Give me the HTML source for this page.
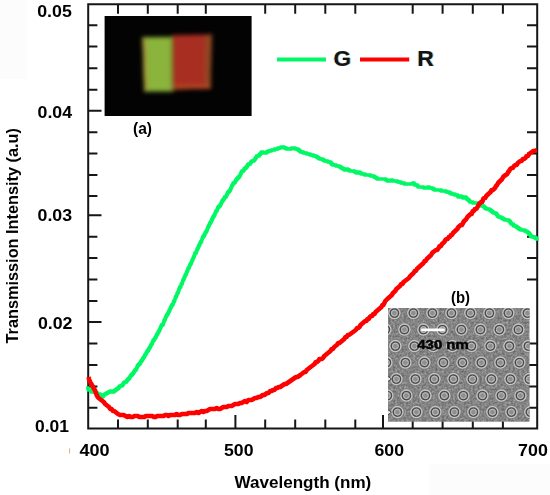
<!DOCTYPE html>
<html><head><meta charset="utf-8"><title>Transmission spectra</title>
<style>
html,body{margin:0;padding:0;background:#fff;}
body{width:550px;height:495px;overflow:hidden;}
svg{display:block;}
text{font-family:"Liberation Sans",Arial,sans-serif;font-weight:bold;fill:#000;}
.tk{font-size:15.6px;}
.lb{font-size:16px;}
.ax{font-size:16.4px;}
.lg{font-size:21.5px;fill:#141414;}
.sb{font-size:13.6px;fill:#050505;stroke:#050505;stroke-width:0.5px;}
</style></head>
<body>
<svg width="550" height="495" viewBox="0 0 550 495">
<defs>
<filter id="blur1" x="-20%" y="-20%" width="140%" height="140%"><feGaussianBlur stdDeviation="2.1"/></filter>
<filter id="noise" x="0" y="0" width="100%" height="100%" color-interpolation-filters="sRGB">
<feTurbulence type="fractalNoise" baseFrequency="0.45" numOctaves="2" seed="4"/>
<feColorMatrix type="matrix" values="1 0 0 0 0  1 0 0 0 0  1 0 0 0 0  0 0 0 0 1"/>
</filter>
<filter id="ct" x="-20%" y="-20%" width="140%" height="140%" color-interpolation-filters="sRGB">
<feFlood flood-color="#f0a020" flood-opacity="0.55"/><feComposite in2="SourceAlpha" operator="in"/><feOffset dx="-0.8" result="o"/>
<feFlood flood-color="#1a9cf0" flood-opacity="0.6"/><feComposite in2="SourceAlpha" operator="in"/><feOffset dx="0.8" result="b"/>
<feMerge><feMergeNode in="o"/><feMergeNode in="b"/><feMergeNode in="SourceGraphic"/></feMerge>
</filter>
<clipPath id="semclip"><rect x="388" y="308" width="141.6" height="113.8"/></clipPath>
</defs>
<rect width="550" height="495" fill="#fff"/>
<rect x="0" y="0" width="26.5" height="79" fill="#fcfcfc"/>
<rect x="430" y="464" width="120" height="31" fill="#fcfcfc"/>
<rect x="69" y="448.4" width="1.1" height="5" fill="#e89a70" opacity="0.8"/>
<path d="M88.2 428.6V4.3H537.2V428.6Z" fill="none" stroke="#161616" stroke-width="2"/>
<path d="M88.2 110.8H101.5M88.2 215.3H101.5M88.2 322H101.5M88.2 25.3H97.4M88.2 46.6H97.4M88.2 68.2H97.4M88.2 89.7H97.4M88.2 132.2H97.4M88.2 153.6H97.4M88.2 175H97.4M88.2 196H97.4M88.2 236.7H97.4M88.2 258H97.4M88.2 279.6H97.4M88.2 300.9H97.4M88.2 343.5H97.4M88.2 365H97.4M88.2 386.6H97.4M88.2 407.7H97.4M235.4 428.6V415M383 428.6V415M118 428.6V419.6M147.8 428.6V419.6M177.7 428.6V419.6M205.8 428.6V419.6M265.2 428.6V419.6M295.2 428.6V419.6M325.3 428.6V419.6M355.3 428.6V419.6M412.7 428.6V419.6M442.6 428.6V419.6M472.8 428.6V419.6M502.9 428.6V419.6M118 4.3V13.8M147.8 4.3V13.8M177.7 4.3V13.8M205.8 4.3V13.8M265.2 4.3V13.8M295.2 4.3V13.8M325.3 4.3V13.8M355.3 4.3V13.8M412.7 4.3V13.8M442.6 4.3V13.8M472.8 4.3V13.8M502.9 4.3V13.8M537.2 25.3H527M537.2 46.6H527M537.2 68.2H527M537.2 89.7H527M537.2 132.2H527M537.2 153.6H527M537.2 175H527M537.2 196H527M537.2 236.7H527M537.2 258H527M537.2 279.6H527M537.2 343.5H527M537.2 365H527M537.2 386.6H527M537.2 407.7H527" fill="none" stroke="#161616" stroke-width="2"/>
<path d="M86.1 386.25 89.1 386.25 90.5 388.25 90.5 391.75 87.5 391.75 86.1 389.75ZM87.5 388.25 91.9 388.25 91.9 391.75 87.5 391.75ZM88.9 388.25 91.9 388.25 93.3 390.25 93.3 393.75 90.3 393.75 88.9 391.75ZM90.3 390.25 94.78 390.25 94.78 393.75 90.3 393.75ZM91.78 390.25 96.25 390.25 96.25 393.75 91.78 393.75ZM93.25 390.25 97.72 390.25 97.72 393.75 93.25 393.75ZM94.72 390.25 97.72 390.25 99.2 392.25 99.2 395.75 96.2 395.75 94.72 393.75ZM96.2 392.25 100.8 392.25 100.8 395.75 96.2 395.75ZM97.8 392.25 100.8 392.25 102.4 393.25 102.4 396.75 99.4 396.75 97.8 395.75ZM99.4 393.25 102.4 393.25 104 395.25 104 398.75 101 398.75 99.4 396.75ZM101 395.25 102.45 393.25 105.45 393.25 105.45 396.75 104 398.75 101 398.75ZM102.45 393.25 103.9 392.25 106.9 392.25 106.9 395.75 105.45 396.75 102.45 396.75ZM103.9 392.25 105.85 391.25 108.85 391.25 108.85 394.75 106.9 395.75 103.9 395.75ZM105.85 391.25 107.8 390.25 110.8 390.25 110.8 393.75 108.85 394.75 105.85 394.75ZM107.8 390.25 109.75 389.25 112.75 389.25 112.75 392.75 110.8 393.75 107.8 393.75ZM109.75 389.25 112.75 389.25 114.7 390.25 114.7 393.75 111.7 393.75 109.75 392.75ZM111.7 390.25 113 389.25 116 389.25 116 392.75 114.7 393.75 111.7 393.75ZM113 389.25 114.3 388.25 117.3 388.25 117.3 391.75 116 392.75 113 392.75ZM114.3 388.25 115.6 387.25 118.6 387.25 118.6 390.75 117.3 391.75 114.3 391.75ZM115.6 387.25 117.03 386.25 120.03 386.25 120.03 389.75 118.6 390.75 115.6 390.75ZM117.03 386.25 118.47 384.25 121.47 384.25 121.47 387.75 120.03 389.75 117.03 389.75ZM118.47 384.25 122.9 384.25 122.9 387.75 118.47 387.75ZM119.9 384.25 121.1 383.25 124.1 383.25 124.1 386.75 122.9 387.75 119.9 387.75ZM121.1 383.25 122.3 381.25 125.3 381.25 125.3 384.75 124.1 386.75 121.1 386.75ZM122.3 381.25 123.5 380.25 126.5 380.25 126.5 383.75 125.3 384.75 122.3 384.75ZM123.5 380.25 127.67 380.25 127.67 383.75 123.5 383.75ZM124.67 380.25 125.83 378.25 128.83 378.25 128.83 381.75 127.67 383.75 124.67 383.75ZM125.83 378.25 127 377.25 130 377.25 130 380.75 128.83 381.75 125.83 381.75ZM127 377.25 128 376.25 131 376.25 131 379.75 130 380.75 127 380.75ZM128 376.25 129 374.25 132 374.25 132 377.75 131 379.75 128 379.75ZM129 374.25 130 373.25 133 373.25 133 376.75 132 377.75 129 377.75ZM130 373.25 131 372.25 134 372.25 134 375.75 133 376.75 130 376.75ZM131 372.25 132 371.25 135 371.25 135 374.75 134 375.75 131 375.75ZM132 371.25 133 369.25 136 369.25 136 372.75 135 374.75 132 374.75ZM133 369.25 133.98 368.25 136.98 368.25 136.98 371.75 136 372.75 133 372.75ZM133.98 368.25 134.96 367.25 137.96 367.25 137.96 370.75 136.98 371.75 133.98 371.75ZM134.96 367.25 135.94 364.25 138.94 364.25 138.94 367.75 137.96 370.75 134.96 370.75ZM135.94 364.25 136.92 363.25 139.92 363.25 139.92 366.75 138.94 367.75 135.94 367.75ZM136.92 363.25 137.9 362.25 140.9 362.25 140.9 365.75 139.92 366.75 136.92 366.75ZM137.9 362.25 138.86 361.25 141.86 361.25 141.86 364.75 140.9 365.75 137.9 365.75ZM138.86 361.25 139.82 359.25 142.82 359.25 142.82 362.75 141.86 364.75 138.86 364.75ZM139.82 359.25 140.78 358.25 143.78 358.25 143.78 361.75 142.82 362.75 139.82 362.75ZM140.78 358.25 141.74 356.25 144.74 356.25 144.74 359.75 143.78 361.75 140.78 361.75ZM141.74 356.25 142.7 355.25 145.7 355.25 145.7 358.75 144.74 359.75 141.74 359.75ZM142.7 355.25 143.56 353.25 146.56 353.25 146.56 356.75 145.7 358.75 142.7 358.75ZM143.56 353.25 144.42 352.25 147.42 352.25 147.42 355.75 146.56 356.75 143.56 356.75ZM144.42 352.25 145.28 350.25 148.28 350.25 148.28 353.75 147.42 355.75 144.42 355.75ZM145.28 350.25 146.14 349.25 149.14 349.25 149.14 352.75 148.28 353.75 145.28 353.75ZM146.14 349.25 147 348.25 150 348.25 150 351.75 149.14 352.75 146.14 352.75ZM147 348.25 147.84 346.25 150.84 346.25 150.84 349.75 150 351.75 147 351.75ZM147.84 346.25 148.68 345.25 151.68 345.25 151.68 348.75 150.84 349.75 147.84 349.75ZM148.68 345.25 149.52 343.25 152.52 343.25 152.52 346.75 151.68 348.75 148.68 348.75ZM149.52 343.25 150.36 342.25 153.36 342.25 153.36 345.75 152.52 346.75 149.52 346.75ZM150.36 342.25 151.2 340.25 154.2 340.25 154.2 343.75 153.36 345.75 150.36 345.75ZM151.2 340.25 152 338.25 155 338.25 155 341.75 154.2 343.75 151.2 343.75ZM152 338.25 155.8 338.25 155.8 341.75 152 341.75ZM152.8 338.25 153.6 336.25 156.6 336.25 156.6 339.75 155.8 341.75 152.8 341.75ZM153.6 336.25 154.4 335.25 157.4 335.25 157.4 338.75 156.6 339.75 153.6 339.75ZM154.4 335.25 155.2 333.25 158.2 333.25 158.2 336.75 157.4 338.75 154.4 338.75ZM155.2 333.25 156 332.25 159 332.25 159 335.75 158.2 336.75 155.2 336.75ZM156 332.25 156.83 330.25 159.83 330.25 159.83 333.75 159 335.75 156 335.75ZM156.83 330.25 157.67 329.25 160.67 329.25 160.67 332.75 159.83 333.75 156.83 333.75ZM157.67 329.25 158.5 327.25 161.5 327.25 161.5 330.75 160.67 332.75 157.67 332.75ZM158.5 327.25 159.33 325.25 162.33 325.25 162.33 328.75 161.5 330.75 158.5 330.75ZM159.33 325.25 160.17 323.25 163.17 323.25 163.17 326.75 162.33 328.75 159.33 328.75ZM160.17 323.25 164 323.25 164 326.75 160.17 326.75ZM161 323.25 161.76 322.25 164.76 322.25 164.76 325.75 164 326.75 161 326.75ZM161.76 322.25 162.52 319.25 165.52 319.25 165.52 322.75 164.76 325.75 161.76 325.75ZM162.52 319.25 163.28 318.25 166.28 318.25 166.28 321.75 165.52 322.75 162.52 322.75ZM163.28 318.25 164.04 316.25 167.04 316.25 167.04 319.75 166.28 321.75 163.28 321.75ZM164.04 316.25 164.8 314.25 167.8 314.25 167.8 317.75 167.04 319.75 164.04 319.75ZM164.8 314.25 165.5 313.25 168.5 313.25 168.5 316.75 167.8 317.75 164.8 317.75ZM165.5 313.25 166.2 312.25 169.2 312.25 169.2 315.75 168.5 316.75 165.5 316.75ZM166.2 312.25 166.9 311.25 169.9 311.25 169.9 314.75 169.2 315.75 166.2 315.75ZM166.9 311.25 167.6 309.25 170.6 309.25 170.6 312.75 169.9 314.75 166.9 314.75ZM167.6 309.25 168.3 308.25 171.3 308.25 171.3 311.75 170.6 312.75 167.6 312.75ZM168.3 308.25 169 306.25 172 306.25 172 309.75 171.3 311.75 168.3 311.75ZM169 306.25 169.7 305.25 172.7 305.25 172.7 308.75 172 309.75 169 309.75ZM169.7 305.25 170.4 303.25 173.4 303.25 173.4 306.75 172.7 308.75 169.7 308.75ZM170.4 303.25 174.1 303.25 174.1 306.75 170.4 306.75ZM171.1 303.25 171.8 301.25 174.8 301.25 174.8 304.75 174.1 306.75 171.1 306.75ZM171.8 301.25 172.5 299.25 175.5 299.25 175.5 302.75 174.8 304.75 171.8 304.75ZM172.5 299.25 176.11 299.25 176.11 302.75 172.5 302.75ZM173.11 299.25 173.72 296.25 176.72 296.25 176.72 299.75 176.11 302.75 173.11 302.75ZM173.72 296.25 174.33 295.25 177.33 295.25 177.33 298.75 176.72 299.75 173.72 299.75ZM174.33 295.25 174.94 294.25 177.94 294.25 177.94 297.75 177.33 298.75 174.33 298.75ZM174.94 294.25 175.55 292.25 178.55 292.25 178.55 295.75 177.94 297.75 174.94 297.75ZM175.55 292.25 176.15 291.25 179.15 291.25 179.15 294.75 178.55 295.75 175.55 295.75ZM176.15 291.25 176.76 290.25 179.76 290.25 179.76 293.75 179.15 294.75 176.15 294.75ZM176.76 290.25 177.37 288.25 180.37 288.25 180.37 291.75 179.76 293.75 176.76 293.75ZM177.37 288.25 177.98 286.25 180.98 286.25 180.98 289.75 180.37 291.75 177.37 291.75ZM177.98 286.25 178.59 285.25 181.59 285.25 181.59 288.75 180.98 289.75 177.98 289.75ZM178.59 285.25 182.2 285.25 182.2 288.75 178.59 288.75ZM179.2 285.25 179.81 282.25 182.81 282.25 182.81 285.75 182.2 288.75 179.2 288.75ZM179.81 282.25 183.42 282.25 183.42 285.75 179.81 285.75ZM180.42 282.25 181.03 280.25 184.03 280.25 184.03 283.75 183.42 285.75 180.42 285.75ZM181.03 280.25 181.64 278.25 184.64 278.25 184.64 281.75 184.03 283.75 181.03 283.75ZM181.64 278.25 182.25 277.25 185.25 277.25 185.25 280.75 184.64 281.75 181.64 281.75ZM182.25 277.25 182.85 276.25 185.85 276.25 185.85 279.75 185.25 280.75 182.25 280.75ZM182.85 276.25 183.46 274.25 186.46 274.25 186.46 277.75 185.85 279.75 182.85 279.75ZM183.46 274.25 184.07 273.25 187.07 273.25 187.07 276.75 186.46 277.75 183.46 277.75ZM184.07 273.25 184.68 272.25 187.68 272.25 187.68 275.75 187.07 276.75 184.07 276.75ZM184.68 272.25 185.29 270.25 188.29 270.25 188.29 273.75 187.68 275.75 184.68 275.75ZM185.29 270.25 185.9 269.25 188.9 269.25 188.9 272.75 188.29 273.75 185.29 273.75ZM185.9 269.25 186.55 267.25 189.55 267.25 189.55 270.75 188.9 272.75 185.9 272.75ZM186.55 267.25 187.19 266.25 190.19 266.25 190.19 269.75 189.55 270.75 186.55 270.75ZM187.19 266.25 187.84 265.25 190.84 265.25 190.84 268.75 190.19 269.75 187.19 269.75ZM187.84 265.25 188.48 263.25 191.48 263.25 191.48 266.75 190.84 268.75 187.84 268.75ZM188.48 263.25 189.13 262.25 192.13 262.25 192.13 265.75 191.48 266.75 188.48 266.75ZM189.13 262.25 189.77 261.25 192.77 261.25 192.77 264.75 192.13 265.75 189.13 265.75ZM189.77 261.25 190.42 259.25 193.42 259.25 193.42 262.75 192.77 264.75 189.77 264.75ZM190.42 259.25 191.06 258.25 194.06 258.25 194.06 261.75 193.42 262.75 190.42 262.75ZM191.06 258.25 191.71 256.25 194.71 256.25 194.71 259.75 194.06 261.75 191.06 261.75ZM191.71 256.25 192.35 255.25 195.35 255.25 195.35 258.75 194.71 259.75 191.71 259.75ZM192.35 255.25 193 253.25 196 253.25 196 256.75 195.35 258.75 192.35 258.75ZM193 253.25 193.71 251.25 196.71 251.25 196.71 254.75 196 256.75 193 256.75ZM193.71 251.25 197.42 251.25 197.42 254.75 193.71 254.75ZM194.42 251.25 195.13 249.25 198.13 249.25 198.13 252.75 197.42 254.75 194.42 254.75ZM195.13 249.25 195.84 247.25 198.84 247.25 198.84 250.75 198.13 252.75 195.13 252.75ZM195.84 247.25 196.56 246.25 199.56 246.25 199.56 249.75 198.84 250.75 195.84 250.75ZM196.56 246.25 197.27 244.25 200.27 244.25 200.27 247.75 199.56 249.75 196.56 249.75ZM197.27 244.25 197.98 243.25 200.98 243.25 200.98 246.75 200.27 247.75 197.27 247.75ZM197.98 243.25 198.69 241.25 201.69 241.25 201.69 244.75 200.98 246.75 197.98 246.75ZM198.69 241.25 199.4 240.25 202.4 240.25 202.4 243.75 201.69 244.75 198.69 244.75ZM199.4 240.25 200.12 239.25 203.12 239.25 203.12 242.75 202.4 243.75 199.4 243.75ZM200.12 239.25 200.85 236.25 203.85 236.25 203.85 239.75 203.12 242.75 200.12 242.75ZM200.85 236.25 201.57 235.25 204.57 235.25 204.57 238.75 203.85 239.75 200.85 239.75ZM201.57 235.25 202.3 234.25 205.3 234.25 205.3 237.75 204.57 238.75 201.57 238.75ZM202.3 234.25 203.03 233.25 206.03 233.25 206.03 236.75 205.3 237.75 202.3 237.75ZM203.03 233.25 203.75 231.25 206.75 231.25 206.75 234.75 206.03 236.75 203.03 236.75ZM203.75 231.25 204.47 230.25 207.47 230.25 207.47 233.75 206.75 234.75 203.75 234.75ZM204.47 230.25 205.2 229.25 208.2 229.25 208.2 232.75 207.47 233.75 204.47 233.75ZM205.2 229.25 205.91 227.25 208.91 227.25 208.91 230.75 208.2 232.75 205.2 232.75ZM205.91 227.25 206.63 225.25 209.63 225.25 209.63 228.75 208.91 230.75 205.91 230.75ZM206.63 225.25 207.34 224.25 210.34 224.25 210.34 227.75 209.63 228.75 206.63 228.75ZM207.34 224.25 208.06 222.25 211.06 222.25 211.06 225.75 210.34 227.75 207.34 227.75ZM208.06 222.25 208.77 221.25 211.77 221.25 211.77 224.75 211.06 225.75 208.06 225.75ZM208.77 221.25 209.49 220.25 212.49 220.25 212.49 223.75 211.77 224.75 208.77 224.75ZM209.49 220.25 210.2 218.25 213.2 218.25 213.2 221.75 212.49 223.75 209.49 223.75ZM210.2 218.25 210.93 217.25 213.93 217.25 213.93 220.75 213.2 221.75 210.2 221.75ZM210.93 217.25 211.66 215.25 214.66 215.25 214.66 218.75 213.93 220.75 210.93 220.75ZM211.66 215.25 212.39 214.25 215.39 214.25 215.39 217.75 214.66 218.75 211.66 218.75ZM212.39 214.25 213.11 213.25 216.11 213.25 216.11 216.75 215.39 217.75 212.39 217.75ZM213.11 213.25 213.84 211.25 216.84 211.25 216.84 214.75 216.11 216.75 213.11 216.75ZM213.84 211.25 214.57 209.25 217.57 209.25 217.57 212.75 216.84 214.75 213.84 214.75ZM214.57 209.25 218.3 209.25 218.3 212.75 214.57 212.75ZM215.3 209.25 216.23 206.25 219.23 206.25 219.23 209.75 218.3 212.75 215.3 212.75ZM216.23 206.25 217.15 205.25 220.15 205.25 220.15 208.75 219.23 209.75 216.23 209.75ZM217.15 205.25 218.07 204.25 221.07 204.25 221.07 207.75 220.15 208.75 217.15 208.75ZM218.07 204.25 219 203.25 222 203.25 222 206.75 221.07 207.75 218.07 207.75ZM219 203.25 219.88 201.25 222.88 201.25 222.88 204.75 222 206.75 219 206.75ZM219.88 201.25 220.75 199.25 223.75 199.25 223.75 202.75 222.88 204.75 219.88 204.75ZM220.75 199.25 221.62 198.25 224.62 198.25 224.62 201.75 223.75 202.75 220.75 202.75ZM221.62 198.25 222.5 197.25 225.5 197.25 225.5 200.75 224.62 201.75 221.62 201.75ZM222.5 197.25 223.42 195.25 226.42 195.25 226.42 198.75 225.5 200.75 222.5 200.75ZM223.42 195.25 227.33 195.25 227.33 198.75 223.42 198.75ZM224.33 195.25 225.25 193.25 228.25 193.25 228.25 196.75 227.33 198.75 224.33 198.75ZM225.25 193.25 226.17 191.25 229.17 191.25 229.17 194.75 228.25 196.75 225.25 196.75ZM226.17 191.25 227.08 190.25 230.08 190.25 230.08 193.75 229.17 194.75 226.17 194.75ZM227.08 190.25 228 189.25 231 189.25 231 192.75 230.08 193.75 227.08 193.75ZM228 189.25 228.78 188.25 231.78 188.25 231.78 191.75 231 192.75 228 192.75ZM228.78 188.25 229.57 186.25 232.57 186.25 232.57 189.75 231.78 191.75 228.78 191.75ZM229.57 186.25 230.35 184.25 233.35 184.25 233.35 187.75 232.57 189.75 229.57 189.75ZM230.35 184.25 231.13 183.25 234.13 183.25 234.13 186.75 233.35 187.75 230.35 187.75ZM231.13 183.25 231.92 181.25 234.92 181.25 234.92 184.75 234.13 186.75 231.13 186.75ZM231.92 181.25 235.7 181.25 235.7 184.75 231.92 184.75ZM232.7 181.25 233.63 180.25 236.63 180.25 236.63 183.75 235.7 184.75 232.7 184.75ZM233.63 180.25 234.57 178.25 237.57 178.25 237.57 181.75 236.63 183.75 233.63 183.75ZM234.57 178.25 235.5 177.25 238.5 177.25 238.5 180.75 237.57 181.75 234.57 181.75ZM235.5 177.25 236.43 176.25 239.43 176.25 239.43 179.75 238.5 180.75 235.5 180.75ZM236.43 176.25 237.37 175.25 240.37 175.25 240.37 178.75 239.43 179.75 236.43 179.75ZM237.37 175.25 238.3 174.25 241.3 174.25 241.3 177.75 240.37 178.75 237.37 178.75ZM238.3 174.25 239.18 172.25 242.18 172.25 242.18 175.75 241.3 177.75 238.3 177.75ZM239.18 172.25 240.05 170.25 243.05 170.25 243.05 173.75 242.18 175.75 239.18 175.75ZM240.05 170.25 240.93 169.25 243.93 169.25 243.93 172.75 243.05 173.75 240.05 173.75ZM240.93 169.25 244.8 169.25 244.8 172.75 240.93 172.75ZM241.8 169.25 242.92 167.25 245.92 167.25 245.92 170.75 244.8 172.75 241.8 172.75ZM242.92 167.25 244.04 166.25 247.04 166.25 247.04 169.75 245.92 170.75 242.92 170.75ZM244.04 166.25 245.16 165.25 248.16 165.25 248.16 168.75 247.04 169.75 244.04 169.75ZM245.16 165.25 246.28 163.25 249.28 163.25 249.28 166.75 248.16 168.75 245.16 168.75ZM246.28 163.25 247.4 162.25 250.4 162.25 250.4 165.75 249.28 166.75 246.28 166.75ZM247.4 162.25 251.5 162.25 251.5 165.75 247.4 165.75ZM248.5 162.25 249.6 160.25 252.6 160.25 252.6 163.75 251.5 165.75 248.5 165.75ZM249.6 160.25 250.7 159.25 253.7 159.25 253.7 162.75 252.6 163.75 249.6 163.75ZM250.7 159.25 254.8 159.25 254.8 162.75 250.7 162.75ZM251.8 159.25 252.9 158.25 255.9 158.25 255.9 161.75 254.8 162.75 251.8 162.75ZM252.9 158.25 254.27 156.25 257.27 156.25 257.27 159.75 255.9 161.75 252.9 161.75ZM254.27 156.25 255.63 154.25 258.63 154.25 258.63 157.75 257.27 159.75 254.27 159.75ZM255.63 154.25 260 154.25 260 157.75 255.63 157.75ZM257 154.25 258.75 152.25 261.75 152.25 261.75 155.75 260 157.75 257 157.75ZM258.75 152.25 260.5 150.25 263.5 150.25 263.5 153.75 261.75 155.75 258.75 155.75ZM260.5 150.25 263.5 150.25 265.2 151.25 265.2 154.75 262.2 154.75 260.5 153.75ZM262.2 151.25 266.9 151.25 266.9 154.75 262.2 154.75ZM263.9 151.25 265.6 150.25 268.6 150.25 268.6 153.75 266.9 154.75 263.9 154.75ZM265.6 150.25 267.27 149.25 270.27 149.25 270.27 152.75 268.6 153.75 265.6 153.75ZM267.27 149.25 271.93 149.25 271.93 152.75 267.27 152.75ZM268.93 149.25 270.6 148.25 273.6 148.25 273.6 151.75 271.93 152.75 268.93 152.75ZM270.6 148.25 275.3 148.25 275.3 151.75 270.6 151.75ZM272.3 148.25 274 147.25 277 147.25 277 150.75 275.3 151.75 272.3 151.75ZM274 147.25 278.7 147.25 278.7 150.75 274 150.75ZM275.7 147.25 277.2 146.25 280.2 146.25 280.2 149.75 278.7 150.75 275.7 150.75ZM277.2 146.25 281.7 146.25 281.7 149.75 277.2 149.75ZM278.7 146.25 280.2 145.25 283.2 145.25 283.2 148.75 281.7 149.75 278.7 149.75ZM280.2 145.25 284.7 145.25 284.7 148.75 280.2 148.75ZM281.7 145.25 284.7 145.25 286.75 146.25 286.75 149.75 283.75 149.75 281.7 148.75ZM283.75 146.25 286.75 146.25 288.8 147.25 288.8 150.75 285.8 150.75 283.75 149.75ZM285.8 147.25 290.47 147.25 290.47 150.75 285.8 150.75ZM287.47 147.25 292.13 147.25 292.13 150.75 287.47 150.75ZM289.13 147.25 290.8 146.25 293.8 146.25 293.8 149.75 292.13 150.75 289.13 150.75ZM290.8 146.25 295.5 146.25 295.5 149.75 290.8 149.75ZM292.5 146.25 295.5 146.25 297.2 147.25 297.2 150.75 294.2 150.75 292.5 149.75ZM294.2 147.25 298.9 147.25 298.9 150.75 294.2 150.75ZM295.9 147.25 298.9 147.25 300.15 148.25 300.15 151.75 297.15 151.75 295.9 150.75ZM297.15 148.25 300.15 148.25 301.4 149.25 301.4 152.75 298.4 152.75 297.15 151.75ZM298.4 149.25 301.4 149.25 302.65 150.25 302.65 153.75 299.65 153.75 298.4 152.75ZM299.65 150.25 303.9 150.25 303.9 153.75 299.65 153.75ZM300.9 150.25 303.9 150.25 305.6 151.25 305.6 154.75 302.6 154.75 300.9 153.75ZM302.6 151.25 307.3 151.25 307.3 154.75 302.6 154.75ZM304.3 151.25 307.3 151.25 309 152.25 309 155.75 306 155.75 304.3 154.75ZM306 152.25 310.7 152.25 310.7 155.75 306 155.75ZM307.7 152.25 310.7 152.25 312.4 153.25 312.4 156.75 309.4 156.75 307.7 155.75ZM309.4 153.25 314.1 153.25 314.1 156.75 309.4 156.75ZM311.1 153.25 314.1 153.25 315.6 154.25 315.6 157.75 312.6 157.75 311.1 156.75ZM312.6 154.25 317.1 154.25 317.1 157.75 312.6 157.75ZM314.1 154.25 317.1 154.25 318.6 155.25 318.6 158.75 315.6 158.75 314.1 157.75ZM315.6 155.25 318.6 155.25 320.1 156.25 320.1 159.75 317.1 159.75 315.6 158.75ZM317.1 156.25 320.1 156.25 321.6 157.25 321.6 160.75 318.6 160.75 317.1 159.75ZM318.6 157.25 323.27 157.25 323.27 160.75 318.6 160.75ZM320.27 157.25 323.27 157.25 324.93 158.25 324.93 161.75 321.93 161.75 320.27 160.75ZM321.93 158.25 324.93 158.25 326.6 159.25 326.6 162.75 323.6 162.75 321.93 161.75ZM323.6 159.25 328.3 159.25 328.3 162.75 323.6 162.75ZM325.3 159.25 328.3 159.25 330 160.25 330 163.75 327 163.75 325.3 162.75ZM327 160.25 331.7 160.25 331.7 163.75 327 163.75ZM328.7 160.25 331.7 160.25 333.37 162.25 333.37 165.75 330.37 165.75 328.7 163.75ZM330.37 162.25 333.37 162.25 335.03 163.25 335.03 166.75 332.03 166.75 330.37 165.75ZM332.03 163.25 336.7 163.25 336.7 166.75 332.03 166.75ZM333.7 163.25 336.7 163.25 338.4 164.25 338.4 167.75 335.4 167.75 333.7 166.75ZM335.4 164.25 340.1 164.25 340.1 167.75 335.4 167.75ZM337.1 164.25 340.1 164.25 341.8 165.25 341.8 168.75 338.8 168.75 337.1 167.75ZM338.8 165.25 341.8 165.25 343.47 166.25 343.47 169.75 340.47 169.75 338.8 168.75ZM340.47 166.25 343.47 166.25 345.13 167.25 345.13 170.75 342.13 170.75 340.47 169.75ZM342.13 167.25 345.13 167.25 346.8 168.25 346.8 171.75 343.8 171.75 342.13 170.75ZM343.8 168.25 345.5 167.25 348.5 167.25 348.5 170.75 346.8 171.75 343.8 171.75ZM345.5 167.25 348.5 167.25 350.2 168.25 350.2 171.75 347.2 171.75 345.5 170.75ZM347.2 168.25 350.2 168.25 351.9 169.25 351.9 172.75 348.9 172.75 347.2 171.75ZM348.9 169.25 353.57 169.25 353.57 172.75 348.9 172.75ZM350.57 169.25 355.23 169.25 355.23 172.75 350.57 172.75ZM352.23 169.25 355.23 169.25 356.9 170.25 356.9 173.75 353.9 173.75 352.23 172.75ZM353.9 170.25 356.9 170.25 358.6 171.25 358.6 174.75 355.6 174.75 353.9 173.75ZM355.6 171.25 357.3 170.25 360.3 170.25 360.3 173.75 358.6 174.75 355.6 174.75ZM357.3 170.25 360.3 170.25 362 171.25 362 174.75 359 174.75 357.3 173.75ZM359 171.25 362 171.25 363.7 172.25 363.7 175.75 360.7 175.75 359 174.75ZM360.7 172.25 365.4 172.25 365.4 175.75 360.7 175.75ZM362.4 172.25 365.4 172.25 367.1 173.25 367.1 176.75 364.1 176.75 362.4 175.75ZM364.1 173.25 369.1 173.25 369.1 176.75 364.1 176.75ZM366.1 173.25 371.1 173.25 371.1 176.75 366.1 176.75ZM368.1 173.25 371.1 173.25 372.85 174.25 372.85 177.75 369.85 177.75 368.1 176.75ZM369.85 174.25 374.6 174.25 374.6 177.75 369.85 177.75ZM371.6 174.25 374.6 174.25 376.27 175.25 376.27 178.75 373.27 178.75 371.6 177.75ZM373.27 175.25 376.27 175.25 377.93 176.25 377.93 179.75 374.93 179.75 373.27 178.75ZM374.93 176.25 377.93 176.25 379.6 177.25 379.6 180.75 376.6 180.75 374.93 179.75ZM376.6 177.25 381.3 177.25 381.3 180.75 376.6 180.75ZM378.3 177.25 383 177.25 383 180.75 378.3 180.75ZM380 177.25 384.7 177.25 384.7 180.75 380 180.75ZM381.7 177.25 386.37 177.25 386.37 180.75 381.7 180.75ZM383.37 177.25 386.37 177.25 388.03 178.25 388.03 181.75 385.03 181.75 383.37 180.75ZM385.03 178.25 388.03 178.25 389.7 179.25 389.7 182.75 386.7 182.75 385.03 181.75ZM386.7 179.25 391.4 179.25 391.4 182.75 386.7 182.75ZM388.4 179.25 390.1 178.25 393.1 178.25 393.1 181.75 391.4 182.75 388.4 182.75ZM390.1 178.25 393.1 178.25 394.8 179.25 394.8 182.75 391.8 182.75 390.1 181.75ZM391.8 179.25 396.47 179.25 396.47 182.75 391.8 182.75ZM393.47 179.25 398.13 179.25 398.13 182.75 393.47 182.75ZM395.13 179.25 398.13 179.25 399.8 180.25 399.8 183.75 396.8 183.75 395.13 182.75ZM396.8 180.25 401.5 180.25 401.5 183.75 396.8 183.75ZM398.5 180.25 401.5 180.25 403.2 181.25 403.2 184.75 400.2 184.75 398.5 183.75ZM400.2 181.25 404.9 181.25 404.9 184.75 400.2 184.75ZM401.9 181.25 404.9 181.25 406.57 182.25 406.57 185.75 403.57 185.75 401.9 184.75ZM403.57 182.25 408.23 182.25 408.23 185.75 403.57 185.75ZM405.23 182.25 409.9 182.25 409.9 185.75 405.23 185.75ZM406.9 182.25 411.6 182.25 411.6 185.75 406.9 185.75ZM408.6 182.25 413.3 182.25 413.3 185.75 408.6 185.75ZM410.3 182.25 412 181.25 415 181.25 415 184.75 413.3 185.75 410.3 185.75ZM412 181.25 415 181.25 416.7 183.25 416.7 186.75 413.7 186.75 412 184.75ZM413.7 183.25 418.4 183.25 418.4 186.75 413.7 186.75ZM415.4 183.25 418.4 183.25 420.1 185.25 420.1 188.75 417.1 188.75 415.4 186.75ZM417.1 185.25 422.1 185.25 422.1 188.75 417.1 188.75ZM419.1 185.25 424.1 185.25 424.1 188.75 419.1 188.75ZM421.1 185.25 424.1 185.25 426.6 186.25 426.6 189.75 423.6 189.75 421.1 188.75ZM423.6 186.25 428.27 186.25 428.27 189.75 423.6 189.75ZM425.27 186.25 426.93 185.25 429.93 185.25 429.93 188.75 428.27 189.75 425.27 189.75ZM426.93 185.25 429.93 185.25 431.6 186.25 431.6 189.75 428.6 189.75 426.93 188.75ZM428.6 186.25 433.3 186.25 433.3 189.75 428.6 189.75ZM430.3 186.25 433.3 186.25 435 187.25 435 190.75 432 190.75 430.3 189.75ZM432 187.25 435 187.25 436.7 188.25 436.7 191.75 433.7 191.75 432 190.75ZM433.7 188.25 438.37 188.25 438.37 191.75 433.7 191.75ZM435.37 188.25 440.03 188.25 440.03 191.75 435.37 191.75ZM437.03 188.25 441.7 188.25 441.7 191.75 437.03 191.75ZM438.7 188.25 441.7 188.25 443.4 189.25 443.4 192.75 440.4 192.75 438.7 191.75ZM440.4 189.25 445.1 189.25 445.1 192.75 440.4 192.75ZM442.1 189.25 446.8 189.25 446.8 192.75 442.1 192.75ZM443.8 189.25 446.8 189.25 448.47 190.25 448.47 193.75 445.47 193.75 443.8 192.75ZM445.47 190.25 450.13 190.25 450.13 193.75 445.47 193.75ZM447.13 190.25 450.13 190.25 451.8 191.25 451.8 194.75 448.8 194.75 447.13 193.75ZM448.8 191.25 451.8 191.25 453.5 192.25 453.5 195.75 450.5 195.75 448.8 194.75ZM450.5 192.25 455.2 192.25 455.2 195.75 450.5 195.75ZM452.2 192.25 455.2 192.25 456.9 193.25 456.9 196.75 453.9 196.75 452.2 195.75ZM453.9 193.25 458.57 193.25 458.57 196.75 453.9 196.75ZM455.57 193.25 458.57 193.25 460.23 195.25 460.23 198.75 457.23 198.75 455.57 196.75ZM457.23 195.25 458.9 194.25 461.9 194.25 461.9 197.75 460.23 198.75 457.23 198.75ZM458.9 194.25 461.9 194.25 463.6 195.25 463.6 198.75 460.6 198.75 458.9 197.75ZM460.6 195.25 463.6 195.25 465.3 196.25 465.3 199.75 462.3 199.75 460.6 198.75ZM462.3 196.25 464 195.25 467 195.25 467 198.75 465.3 199.75 462.3 199.75ZM464 195.25 467 195.25 468.6 197.25 468.6 200.75 465.6 200.75 464 198.75ZM465.6 197.25 468.6 197.25 470.2 198.25 470.2 201.75 467.2 201.75 465.6 200.75ZM467.2 198.25 470.2 198.25 471.8 200.25 471.8 203.75 468.8 203.75 467.2 201.75ZM468.8 200.25 473.4 200.25 473.4 203.75 468.8 203.75ZM470.4 200.25 473.4 200.25 475 201.25 475 204.75 472 204.75 470.4 203.75ZM472 201.25 476.6 201.25 476.6 204.75 472 204.75ZM473.6 201.25 478.27 201.25 478.27 204.75 473.6 204.75ZM475.27 201.25 478.27 201.25 479.93 202.25 479.93 205.75 476.93 205.75 475.27 204.75ZM476.93 202.25 479.93 202.25 481.6 203.25 481.6 206.75 478.6 206.75 476.93 205.75ZM478.6 203.25 481.6 203.25 483.3 204.25 483.3 207.75 480.3 207.75 478.6 206.75ZM480.3 204.25 485 204.25 485 207.75 480.3 207.75ZM482 204.25 485 204.25 486.7 206.25 486.7 209.75 483.7 209.75 482 207.75ZM483.7 206.25 486.7 206.25 488.37 207.25 488.37 210.75 485.37 210.75 483.7 209.75ZM485.37 207.25 490.03 207.25 490.03 210.75 485.37 210.75ZM487.03 207.25 490.03 207.25 491.7 208.25 491.7 211.75 488.7 211.75 487.03 210.75ZM488.7 208.25 491.7 208.25 492.98 209.25 492.98 212.75 489.98 212.75 488.7 211.75ZM489.98 209.25 492.98 209.25 494.25 210.25 494.25 213.75 491.25 213.75 489.98 212.75ZM491.25 210.25 494.25 210.25 495.52 211.25 495.52 214.75 492.52 214.75 491.25 213.75ZM492.52 211.25 496.8 211.25 496.8 214.75 492.52 214.75ZM493.8 211.25 496.8 211.25 498.05 212.25 498.05 215.75 495.05 215.75 493.8 214.75ZM495.05 212.25 498.05 212.25 499.3 214.25 499.3 217.75 496.3 217.75 495.05 215.75ZM496.3 214.25 499.3 214.25 500.55 215.25 500.55 218.75 497.55 218.75 496.3 217.75ZM497.55 215.25 501.8 215.25 501.8 218.75 497.55 218.75ZM498.8 215.25 501.8 215.25 503.5 216.25 503.5 219.75 500.5 219.75 498.8 218.75ZM500.5 216.25 503.5 216.25 505.2 217.25 505.2 220.75 502.2 220.75 500.5 219.75ZM502.2 217.25 505.2 217.25 506.9 218.25 506.9 221.75 503.9 221.75 502.2 220.75ZM503.9 218.25 509.7 218.25 509.7 221.75 503.9 221.75ZM506.7 218.25 509.7 218.25 510.8 219.25 510.8 222.75 507.8 222.75 506.7 221.75ZM507.8 219.25 510.8 219.25 511.9 220.25 511.9 223.75 508.9 223.75 507.8 222.75ZM508.9 220.25 511.9 220.25 513 222.25 513 225.75 510 225.75 508.9 223.75ZM510 222.25 514.33 222.25 514.33 225.75 510 225.75ZM511.33 222.25 514.33 222.25 515.67 224.25 515.67 227.75 512.67 227.75 511.33 225.75ZM512.67 224.25 517 224.25 517 227.75 512.67 227.75ZM514 224.25 517 224.25 518.33 225.25 518.33 228.75 515.33 228.75 514 227.75ZM515.33 225.25 518.33 225.25 519.67 226.25 519.67 229.75 516.67 229.75 515.33 228.75ZM516.67 226.25 519.67 226.25 521 227.25 521 230.75 518 230.75 516.67 229.75ZM518 227.25 521 227.25 523.05 228.25 523.05 231.75 520.05 231.75 518 230.75ZM520.05 228.25 525.1 228.25 525.1 231.75 520.05 231.75ZM522.1 228.25 525.1 228.25 527.1 229.25 527.1 232.75 524.1 232.75 522.1 231.75ZM524.1 229.25 527.1 229.25 529.1 230.25 529.1 233.75 526.1 233.75 524.1 232.75ZM526.1 230.25 529.1 230.25 530.2 231.25 530.2 234.75 527.2 234.75 526.1 233.75ZM527.2 231.25 530.2 231.25 531.3 232.25 531.3 235.75 528.3 235.75 527.2 234.75ZM528.3 232.25 531.3 232.25 532.4 234.25 532.4 237.75 529.4 237.75 528.3 235.75ZM529.4 234.25 532.4 234.25 534 235.25 534 238.75 531 238.75 529.4 237.75ZM531 235.25 535.6 235.25 535.6 238.75 531 238.75ZM532.6 235.25 535.6 235.25 537.15 236.25 537.15 239.75 534.15 239.75 532.6 238.75ZM534.15 236.25 537.15 236.25 538.7 237.25 538.7 240.75 535.7 240.75 534.15 239.75Z" fill="#00f865"/>
<path d="M88.6 377 L89 379 L89.77 381 L90.53 383 L91.3 384 L92.43 386 L93.57 388 L94.7 390 L95.25 391 L95.8 393 L96.73 395 L97.67 397 L98.6 398 L99.9 399 L101.2 400 L102.5 401 L103.8 402 L105.1 404 L106.4 405 L107.7 406 L109 407 L110.3 409 L111.6 409 L112.9 411 L114.2 411 L115.47 412 L116.73 413 L118 414 L119.95 415 L121.9 415 L123.7 415 L125.5 416 L127.3 417 L129.1 416 L130.9 417 L132.7 417 L134.5 416 L136.12 416 L137.74 416 L139.37 417 L140.99 417 L142.61 417 L144.23 417 L145.86 416 L147.48 416 L149.1 416 L150.71 416 L152.32 416 L153.93 417 L155.54 417 L157.16 416 L158.77 416 L160.38 416 L161.99 416 L163.6 416 L165.22 415 L166.84 415 L168.47 416 L170.09 415 L171.71 415 L173.33 415 L174.96 415 L176.58 414 L178.2 415 L180.02 415 L181.85 414 L183.68 414 L185.5 414 L187 414 L188.5 413 L190 413 L191.7 413 L193.4 413 L195.1 413 L196.8 412 L198.5 413 L200.14 412 L201.79 411 L203.43 412 L205.07 411 L206.71 411 L208.36 410 L210 409 L211.67 409 L213.33 409 L215 409 L216.67 408 L218.33 409 L220 409 L221.67 408 L223.33 407 L225 407 L226.67 407 L228.33 406 L230 406 L231.67 406 L233.33 405 L235 404 L236.67 404 L238.33 404 L240 403 L241.67 403 L243.33 402 L245 401 L246.67 402 L248.33 400 L250 400 L251.67 400 L253.33 399 L255 398 L256.67 398 L258.33 397 L260 397 L261.44 396 L262.89 395 L264.33 395 L265.77 394 L267.21 393 L268.66 393 L270.1 391 L271.54 391 L272.99 390 L274.43 390 L275.87 388 L277.31 388 L278.76 387 L280.2 387 L281.64 386 L283.09 385 L284.53 384 L285.97 384 L287.41 383 L288.86 382 L290.3 381 L291.74 380 L293.19 379 L294.63 378 L296.07 377 L297.51 377 L298.96 376 L300.4 375 L301.67 374 L302.95 373 L304.23 372 L305.5 372 L306.77 370 L308.05 369 L309.33 368 L310.6 367 L311.93 366 L313.27 365 L314.6 364 L315.8 362 L317 362 L318.2 361 L319.4 359 L320.6 359 L321.8 359 L323.03 358 L324.27 356 L325.5 355 L326.73 354 L327.97 353 L329.2 352 L330.43 351 L331.67 349 L332.9 349 L334.22 347 L335.54 346 L336.86 345 L338.18 343 L339.5 343 L340.69 342 L341.88 341 L343.06 340 L344.25 339 L345.44 337 L346.62 337 L347.81 335 L349 335 L350.35 334 L351.7 333 L353.05 332 L354.4 331 L355.75 330 L357.1 328 L358.26 328 L359.41 327 L360.57 325 L361.73 324 L362.89 323 L364.04 322 L365.2 321 L366.36 321 L367.51 319 L368.67 319 L369.83 317 L370.99 316 L372.14 316 L373.3 314 L374.46 314 L375.61 312 L376.77 311 L377.93 310 L379.09 309 L380.24 308 L381.4 307 L382.38 305 L383.37 305 L384.35 303 L385.33 301 L386.32 300 L387.3 299 L388.44 298 L389.57 297 L390.71 296 L391.85 295 L392.99 293 L394.12 292 L395.26 291 L396.4 289 L397.6 288 L398.8 287 L400 286 L401.2 284 L402.4 284 L403.6 282 L404.94 281 L406.28 280 L407.62 279 L408.96 278 L410.3 276 L411.4 275 L412.5 274 L413.6 273 L414.7 271 L415.8 271 L416.9 269 L418 268 L419.1 267 L420.2 266 L421.3 265 L422.4 264 L423.49 263 L424.58 261 L425.67 261 L426.76 259 L427.85 258 L428.94 257 L430.03 256 L431.12 255 L432.21 253 L433.3 252 L434.62 251 L435.95 250 L437.28 250 L438.6 248 L439.74 246 L440.88 246 L442.01 244 L443.15 243 L444.29 242 L445.43 240 L446.56 239 L447.7 239 L448.76 237 L449.82 237 L450.89 235 L451.95 235 L453.01 233 L454.07 232 L455.14 231 L456.2 230 L457.34 229 L458.48 227 L459.61 226 L460.75 225 L461.89 225 L463.02 223 L464.16 221 L465.3 220 L466.36 219 L467.43 217 L468.49 216 L469.55 215 L470.61 214 L471.68 214 L472.74 211 L473.8 211 L474.86 209 L475.91 209 L476.97 208 L478.03 206 L479.09 204 L480.14 203 L481.2 202 L482.21 202 L483.23 199 L484.24 198 L485.26 198 L486.27 196 L487.29 195 L488.3 194 L489.44 193 L490.58 192 L491.72 190 L492.86 190 L494 189 L495.02 188 L496.05 186 L497.08 185 L498.1 183 L499.12 182 L500.13 181 L501.15 180 L502.17 179 L503.18 177 L504.2 176 L505.7 175 L507.2 174 L508.2 172 L509.2 171 L510.2 169 L511.47 168 L512.75 168 L514.02 166 L515.3 165 L516.55 165 L517.8 163 L519.05 162 L520.3 161 L521.57 161 L522.85 159 L524.12 159 L525.4 158 L526.65 156 L527.9 156 L529.15 154 L530.4 153 L531.77 152 L533.13 151 L534.5 151 L536.6 150" fill="none" stroke="#ff0000" stroke-width="4.6" stroke-linejoin="round" stroke-linecap="butt"/>
<path d="M277 59.5H326" stroke="#00f865" stroke-width="4.2"/>
<path d="M360 59.5H409.2" stroke="#ff0000" stroke-width="4.2"/>
<text x="333.4" y="66.3" class="lg" filter="url(#ct)" textLength="17.6" lengthAdjust="spacingAndGlyphs">G</text>
<text x="417.2" y="66.2" class="lg" filter="url(#ct)" textLength="16.6" lengthAdjust="spacingAndGlyphs">R</text>
<rect x="104.6" y="16" width="147" height="100" fill="#030303"/>
<g filter="url(#blur1)"><polygon points="142.4,37.2 172.4,37 173.2,91.6 144.2,91.6" fill="#8ab43b"/><polygon points="142.4,37.2 146,37.2 147.6,91.6 144.2,91.6" fill="#a4963a"/><polygon points="171.8,35.2 211.8,34.6 210.6,88.6 173,89.4" fill="#a92d22"/><polygon points="205.8,34.8 211.8,34.6 210.6,88.6 205,88.8" fill="#8e4a24"/><polygon points="173,85.4 210.6,84.8 210.6,88.6 173,89.4" fill="#b54a28"/><rect x="171" y="37" width="2.6" height="53" fill="#6a4a22" opacity="0.6"/></g>
<g clip-path="url(#semclip)">
<rect x="388" y="308" width="141.6" height="113.8" fill="#868686"/>
<rect x="388" y="308" width="141.6" height="113.8" filter="url(#noise)" opacity="0.38"/>
<circle cx="394.4" cy="313.1" r="6.6" fill="none" stroke="#7a7a7a" stroke-width="0.9"/>
<circle cx="394.4" cy="313.1" r="5.6" fill="none" stroke="#c6c6c6" stroke-width="1.3"/>
<circle cx="394.4" cy="313.1" r="4.15" fill="none" stroke="#484848" stroke-width="1.15"/>
<circle cx="394.4" cy="313.1" r="2.9" fill="#8e8e8e" stroke="#c2c2c2" stroke-width="1"/>
<circle cx="413.4" cy="313.1" r="6.6" fill="none" stroke="#7a7a7a" stroke-width="0.9"/>
<circle cx="413.4" cy="313.1" r="5.6" fill="none" stroke="#c6c6c6" stroke-width="1.3"/>
<circle cx="413.4" cy="313.1" r="4.15" fill="none" stroke="#484848" stroke-width="1.15"/>
<circle cx="413.4" cy="313.1" r="2.9" fill="#8e8e8e" stroke="#c2c2c2" stroke-width="1"/>
<circle cx="432.4" cy="313.1" r="6.6" fill="none" stroke="#7a7a7a" stroke-width="0.9"/>
<circle cx="432.4" cy="313.1" r="5.6" fill="none" stroke="#c6c6c6" stroke-width="1.3"/>
<circle cx="432.4" cy="313.1" r="4.15" fill="none" stroke="#484848" stroke-width="1.15"/>
<circle cx="432.4" cy="313.1" r="2.9" fill="#8e8e8e" stroke="#c2c2c2" stroke-width="1"/>
<circle cx="451.4" cy="313.1" r="6.6" fill="none" stroke="#7a7a7a" stroke-width="0.9"/>
<circle cx="451.4" cy="313.1" r="5.6" fill="none" stroke="#c6c6c6" stroke-width="1.3"/>
<circle cx="451.4" cy="313.1" r="4.15" fill="none" stroke="#484848" stroke-width="1.15"/>
<circle cx="451.4" cy="313.1" r="2.9" fill="#8e8e8e" stroke="#c2c2c2" stroke-width="1"/>
<circle cx="470.4" cy="313.1" r="6.6" fill="none" stroke="#7a7a7a" stroke-width="0.9"/>
<circle cx="470.4" cy="313.1" r="5.6" fill="none" stroke="#c6c6c6" stroke-width="1.3"/>
<circle cx="470.4" cy="313.1" r="4.15" fill="none" stroke="#484848" stroke-width="1.15"/>
<circle cx="470.4" cy="313.1" r="2.9" fill="#8e8e8e" stroke="#c2c2c2" stroke-width="1"/>
<circle cx="489.4" cy="313.1" r="6.6" fill="none" stroke="#7a7a7a" stroke-width="0.9"/>
<circle cx="489.4" cy="313.1" r="5.6" fill="none" stroke="#c6c6c6" stroke-width="1.3"/>
<circle cx="489.4" cy="313.1" r="4.15" fill="none" stroke="#484848" stroke-width="1.15"/>
<circle cx="489.4" cy="313.1" r="2.9" fill="#8e8e8e" stroke="#c2c2c2" stroke-width="1"/>
<circle cx="508.4" cy="313.1" r="6.6" fill="none" stroke="#7a7a7a" stroke-width="0.9"/>
<circle cx="508.4" cy="313.1" r="5.6" fill="none" stroke="#c6c6c6" stroke-width="1.3"/>
<circle cx="508.4" cy="313.1" r="4.15" fill="none" stroke="#484848" stroke-width="1.15"/>
<circle cx="508.4" cy="313.1" r="2.9" fill="#8e8e8e" stroke="#c2c2c2" stroke-width="1"/>
<circle cx="527.4" cy="313.1" r="6.6" fill="none" stroke="#7a7a7a" stroke-width="0.9"/>
<circle cx="527.4" cy="313.1" r="5.6" fill="none" stroke="#c6c6c6" stroke-width="1.3"/>
<circle cx="527.4" cy="313.1" r="4.15" fill="none" stroke="#484848" stroke-width="1.15"/>
<circle cx="527.4" cy="313.1" r="2.9" fill="#8e8e8e" stroke="#c2c2c2" stroke-width="1"/>
<circle cx="385.4" cy="329.6" r="6.6" fill="none" stroke="#7a7a7a" stroke-width="0.9"/>
<circle cx="385.4" cy="329.6" r="5.6" fill="none" stroke="#c6c6c6" stroke-width="1.3"/>
<circle cx="385.4" cy="329.6" r="4.15" fill="none" stroke="#484848" stroke-width="1.15"/>
<circle cx="385.4" cy="329.6" r="2.9" fill="#8e8e8e" stroke="#c2c2c2" stroke-width="1"/>
<circle cx="404.4" cy="329.6" r="6.6" fill="none" stroke="#7a7a7a" stroke-width="0.9"/>
<circle cx="404.4" cy="329.6" r="5.6" fill="none" stroke="#c6c6c6" stroke-width="1.3"/>
<circle cx="404.4" cy="329.6" r="4.15" fill="none" stroke="#484848" stroke-width="1.15"/>
<circle cx="404.4" cy="329.6" r="2.9" fill="#8e8e8e" stroke="#c2c2c2" stroke-width="1"/>
<circle cx="423.4" cy="329.6" r="6.6" fill="none" stroke="#7a7a7a" stroke-width="0.9"/>
<circle cx="423.4" cy="329.6" r="5.6" fill="none" stroke="#c6c6c6" stroke-width="1.3"/>
<circle cx="423.4" cy="329.6" r="4.15" fill="none" stroke="#484848" stroke-width="1.15"/>
<circle cx="423.4" cy="329.6" r="2.9" fill="#8e8e8e" stroke="#c2c2c2" stroke-width="1"/>
<circle cx="442.4" cy="329.6" r="6.6" fill="none" stroke="#7a7a7a" stroke-width="0.9"/>
<circle cx="442.4" cy="329.6" r="5.6" fill="none" stroke="#c6c6c6" stroke-width="1.3"/>
<circle cx="442.4" cy="329.6" r="4.15" fill="none" stroke="#484848" stroke-width="1.15"/>
<circle cx="442.4" cy="329.6" r="2.9" fill="#8e8e8e" stroke="#c2c2c2" stroke-width="1"/>
<circle cx="461.4" cy="329.6" r="6.6" fill="none" stroke="#7a7a7a" stroke-width="0.9"/>
<circle cx="461.4" cy="329.6" r="5.6" fill="none" stroke="#c6c6c6" stroke-width="1.3"/>
<circle cx="461.4" cy="329.6" r="4.15" fill="none" stroke="#484848" stroke-width="1.15"/>
<circle cx="461.4" cy="329.6" r="2.9" fill="#8e8e8e" stroke="#c2c2c2" stroke-width="1"/>
<circle cx="480.4" cy="329.6" r="6.6" fill="none" stroke="#7a7a7a" stroke-width="0.9"/>
<circle cx="480.4" cy="329.6" r="5.6" fill="none" stroke="#c6c6c6" stroke-width="1.3"/>
<circle cx="480.4" cy="329.6" r="4.15" fill="none" stroke="#484848" stroke-width="1.15"/>
<circle cx="480.4" cy="329.6" r="2.9" fill="#8e8e8e" stroke="#c2c2c2" stroke-width="1"/>
<circle cx="499.4" cy="329.6" r="6.6" fill="none" stroke="#7a7a7a" stroke-width="0.9"/>
<circle cx="499.4" cy="329.6" r="5.6" fill="none" stroke="#c6c6c6" stroke-width="1.3"/>
<circle cx="499.4" cy="329.6" r="4.15" fill="none" stroke="#484848" stroke-width="1.15"/>
<circle cx="499.4" cy="329.6" r="2.9" fill="#8e8e8e" stroke="#c2c2c2" stroke-width="1"/>
<circle cx="518.4" cy="329.6" r="6.6" fill="none" stroke="#7a7a7a" stroke-width="0.9"/>
<circle cx="518.4" cy="329.6" r="5.6" fill="none" stroke="#c6c6c6" stroke-width="1.3"/>
<circle cx="518.4" cy="329.6" r="4.15" fill="none" stroke="#484848" stroke-width="1.15"/>
<circle cx="518.4" cy="329.6" r="2.9" fill="#8e8e8e" stroke="#c2c2c2" stroke-width="1"/>
<circle cx="537.4" cy="329.6" r="6.6" fill="none" stroke="#7a7a7a" stroke-width="0.9"/>
<circle cx="537.4" cy="329.6" r="5.6" fill="none" stroke="#c6c6c6" stroke-width="1.3"/>
<circle cx="537.4" cy="329.6" r="4.15" fill="none" stroke="#484848" stroke-width="1.15"/>
<circle cx="537.4" cy="329.6" r="2.9" fill="#8e8e8e" stroke="#c2c2c2" stroke-width="1"/>
<circle cx="395.4" cy="346.1" r="6.6" fill="none" stroke="#7a7a7a" stroke-width="0.9"/>
<circle cx="395.4" cy="346.1" r="5.6" fill="none" stroke="#c6c6c6" stroke-width="1.3"/>
<circle cx="395.4" cy="346.1" r="4.15" fill="none" stroke="#484848" stroke-width="1.15"/>
<circle cx="395.4" cy="346.1" r="2.9" fill="#8e8e8e" stroke="#c2c2c2" stroke-width="1"/>
<circle cx="414.4" cy="346.1" r="6.6" fill="none" stroke="#7a7a7a" stroke-width="0.9"/>
<circle cx="414.4" cy="346.1" r="5.6" fill="none" stroke="#c6c6c6" stroke-width="1.3"/>
<circle cx="414.4" cy="346.1" r="4.15" fill="none" stroke="#484848" stroke-width="1.15"/>
<circle cx="414.4" cy="346.1" r="2.9" fill="#8e8e8e" stroke="#c2c2c2" stroke-width="1"/>
<circle cx="433.4" cy="346.1" r="6.6" fill="none" stroke="#7a7a7a" stroke-width="0.9"/>
<circle cx="433.4" cy="346.1" r="5.6" fill="none" stroke="#c6c6c6" stroke-width="1.3"/>
<circle cx="433.4" cy="346.1" r="4.15" fill="none" stroke="#484848" stroke-width="1.15"/>
<circle cx="433.4" cy="346.1" r="2.9" fill="#8e8e8e" stroke="#c2c2c2" stroke-width="1"/>
<circle cx="452.4" cy="346.1" r="6.6" fill="none" stroke="#7a7a7a" stroke-width="0.9"/>
<circle cx="452.4" cy="346.1" r="5.6" fill="none" stroke="#c6c6c6" stroke-width="1.3"/>
<circle cx="452.4" cy="346.1" r="4.15" fill="none" stroke="#484848" stroke-width="1.15"/>
<circle cx="452.4" cy="346.1" r="2.9" fill="#8e8e8e" stroke="#c2c2c2" stroke-width="1"/>
<circle cx="471.4" cy="346.1" r="6.6" fill="none" stroke="#7a7a7a" stroke-width="0.9"/>
<circle cx="471.4" cy="346.1" r="5.6" fill="none" stroke="#c6c6c6" stroke-width="1.3"/>
<circle cx="471.4" cy="346.1" r="4.15" fill="none" stroke="#484848" stroke-width="1.15"/>
<circle cx="471.4" cy="346.1" r="2.9" fill="#8e8e8e" stroke="#c2c2c2" stroke-width="1"/>
<circle cx="490.4" cy="346.1" r="6.6" fill="none" stroke="#7a7a7a" stroke-width="0.9"/>
<circle cx="490.4" cy="346.1" r="5.6" fill="none" stroke="#c6c6c6" stroke-width="1.3"/>
<circle cx="490.4" cy="346.1" r="4.15" fill="none" stroke="#484848" stroke-width="1.15"/>
<circle cx="490.4" cy="346.1" r="2.9" fill="#8e8e8e" stroke="#c2c2c2" stroke-width="1"/>
<circle cx="509.4" cy="346.1" r="6.6" fill="none" stroke="#7a7a7a" stroke-width="0.9"/>
<circle cx="509.4" cy="346.1" r="5.6" fill="none" stroke="#c6c6c6" stroke-width="1.3"/>
<circle cx="509.4" cy="346.1" r="4.15" fill="none" stroke="#484848" stroke-width="1.15"/>
<circle cx="509.4" cy="346.1" r="2.9" fill="#8e8e8e" stroke="#c2c2c2" stroke-width="1"/>
<circle cx="528.4" cy="346.1" r="6.6" fill="none" stroke="#7a7a7a" stroke-width="0.9"/>
<circle cx="528.4" cy="346.1" r="5.6" fill="none" stroke="#c6c6c6" stroke-width="1.3"/>
<circle cx="528.4" cy="346.1" r="4.15" fill="none" stroke="#484848" stroke-width="1.15"/>
<circle cx="528.4" cy="346.1" r="2.9" fill="#8e8e8e" stroke="#c2c2c2" stroke-width="1"/>
<circle cx="386.4" cy="362.6" r="6.6" fill="none" stroke="#7a7a7a" stroke-width="0.9"/>
<circle cx="386.4" cy="362.6" r="5.6" fill="none" stroke="#c6c6c6" stroke-width="1.3"/>
<circle cx="386.4" cy="362.6" r="4.15" fill="none" stroke="#484848" stroke-width="1.15"/>
<circle cx="386.4" cy="362.6" r="2.9" fill="#8e8e8e" stroke="#c2c2c2" stroke-width="1"/>
<circle cx="405.4" cy="362.6" r="6.6" fill="none" stroke="#7a7a7a" stroke-width="0.9"/>
<circle cx="405.4" cy="362.6" r="5.6" fill="none" stroke="#c6c6c6" stroke-width="1.3"/>
<circle cx="405.4" cy="362.6" r="4.15" fill="none" stroke="#484848" stroke-width="1.15"/>
<circle cx="405.4" cy="362.6" r="2.9" fill="#8e8e8e" stroke="#c2c2c2" stroke-width="1"/>
<circle cx="424.4" cy="362.6" r="6.6" fill="none" stroke="#7a7a7a" stroke-width="0.9"/>
<circle cx="424.4" cy="362.6" r="5.6" fill="none" stroke="#c6c6c6" stroke-width="1.3"/>
<circle cx="424.4" cy="362.6" r="4.15" fill="none" stroke="#484848" stroke-width="1.15"/>
<circle cx="424.4" cy="362.6" r="2.9" fill="#8e8e8e" stroke="#c2c2c2" stroke-width="1"/>
<circle cx="443.4" cy="362.6" r="6.6" fill="none" stroke="#7a7a7a" stroke-width="0.9"/>
<circle cx="443.4" cy="362.6" r="5.6" fill="none" stroke="#c6c6c6" stroke-width="1.3"/>
<circle cx="443.4" cy="362.6" r="4.15" fill="none" stroke="#484848" stroke-width="1.15"/>
<circle cx="443.4" cy="362.6" r="2.9" fill="#8e8e8e" stroke="#c2c2c2" stroke-width="1"/>
<circle cx="462.4" cy="362.6" r="6.6" fill="none" stroke="#7a7a7a" stroke-width="0.9"/>
<circle cx="462.4" cy="362.6" r="5.6" fill="none" stroke="#c6c6c6" stroke-width="1.3"/>
<circle cx="462.4" cy="362.6" r="4.15" fill="none" stroke="#484848" stroke-width="1.15"/>
<circle cx="462.4" cy="362.6" r="2.9" fill="#8e8e8e" stroke="#c2c2c2" stroke-width="1"/>
<circle cx="481.4" cy="362.6" r="6.6" fill="none" stroke="#7a7a7a" stroke-width="0.9"/>
<circle cx="481.4" cy="362.6" r="5.6" fill="none" stroke="#c6c6c6" stroke-width="1.3"/>
<circle cx="481.4" cy="362.6" r="4.15" fill="none" stroke="#484848" stroke-width="1.15"/>
<circle cx="481.4" cy="362.6" r="2.9" fill="#8e8e8e" stroke="#c2c2c2" stroke-width="1"/>
<circle cx="500.4" cy="362.6" r="6.6" fill="none" stroke="#7a7a7a" stroke-width="0.9"/>
<circle cx="500.4" cy="362.6" r="5.6" fill="none" stroke="#c6c6c6" stroke-width="1.3"/>
<circle cx="500.4" cy="362.6" r="4.15" fill="none" stroke="#484848" stroke-width="1.15"/>
<circle cx="500.4" cy="362.6" r="2.9" fill="#8e8e8e" stroke="#c2c2c2" stroke-width="1"/>
<circle cx="519.4" cy="362.6" r="6.6" fill="none" stroke="#7a7a7a" stroke-width="0.9"/>
<circle cx="519.4" cy="362.6" r="5.6" fill="none" stroke="#c6c6c6" stroke-width="1.3"/>
<circle cx="519.4" cy="362.6" r="4.15" fill="none" stroke="#484848" stroke-width="1.15"/>
<circle cx="519.4" cy="362.6" r="2.9" fill="#8e8e8e" stroke="#c2c2c2" stroke-width="1"/>
<circle cx="538.4" cy="362.6" r="6.6" fill="none" stroke="#7a7a7a" stroke-width="0.9"/>
<circle cx="538.4" cy="362.6" r="5.6" fill="none" stroke="#c6c6c6" stroke-width="1.3"/>
<circle cx="538.4" cy="362.6" r="4.15" fill="none" stroke="#484848" stroke-width="1.15"/>
<circle cx="538.4" cy="362.6" r="2.9" fill="#8e8e8e" stroke="#c2c2c2" stroke-width="1"/>
<circle cx="396.4" cy="379.1" r="6.6" fill="none" stroke="#7a7a7a" stroke-width="0.9"/>
<circle cx="396.4" cy="379.1" r="5.6" fill="none" stroke="#c6c6c6" stroke-width="1.3"/>
<circle cx="396.4" cy="379.1" r="4.15" fill="none" stroke="#484848" stroke-width="1.15"/>
<circle cx="396.4" cy="379.1" r="2.9" fill="#8e8e8e" stroke="#c2c2c2" stroke-width="1"/>
<circle cx="415.4" cy="379.1" r="6.6" fill="none" stroke="#7a7a7a" stroke-width="0.9"/>
<circle cx="415.4" cy="379.1" r="5.6" fill="none" stroke="#c6c6c6" stroke-width="1.3"/>
<circle cx="415.4" cy="379.1" r="4.15" fill="none" stroke="#484848" stroke-width="1.15"/>
<circle cx="415.4" cy="379.1" r="2.9" fill="#8e8e8e" stroke="#c2c2c2" stroke-width="1"/>
<circle cx="434.4" cy="379.1" r="6.6" fill="none" stroke="#7a7a7a" stroke-width="0.9"/>
<circle cx="434.4" cy="379.1" r="5.6" fill="none" stroke="#c6c6c6" stroke-width="1.3"/>
<circle cx="434.4" cy="379.1" r="4.15" fill="none" stroke="#484848" stroke-width="1.15"/>
<circle cx="434.4" cy="379.1" r="2.9" fill="#8e8e8e" stroke="#c2c2c2" stroke-width="1"/>
<circle cx="453.4" cy="379.1" r="6.6" fill="none" stroke="#7a7a7a" stroke-width="0.9"/>
<circle cx="453.4" cy="379.1" r="5.6" fill="none" stroke="#c6c6c6" stroke-width="1.3"/>
<circle cx="453.4" cy="379.1" r="4.15" fill="none" stroke="#484848" stroke-width="1.15"/>
<circle cx="453.4" cy="379.1" r="2.9" fill="#8e8e8e" stroke="#c2c2c2" stroke-width="1"/>
<circle cx="472.4" cy="379.1" r="6.6" fill="none" stroke="#7a7a7a" stroke-width="0.9"/>
<circle cx="472.4" cy="379.1" r="5.6" fill="none" stroke="#c6c6c6" stroke-width="1.3"/>
<circle cx="472.4" cy="379.1" r="4.15" fill="none" stroke="#484848" stroke-width="1.15"/>
<circle cx="472.4" cy="379.1" r="2.9" fill="#8e8e8e" stroke="#c2c2c2" stroke-width="1"/>
<circle cx="491.4" cy="379.1" r="6.6" fill="none" stroke="#7a7a7a" stroke-width="0.9"/>
<circle cx="491.4" cy="379.1" r="5.6" fill="none" stroke="#c6c6c6" stroke-width="1.3"/>
<circle cx="491.4" cy="379.1" r="4.15" fill="none" stroke="#484848" stroke-width="1.15"/>
<circle cx="491.4" cy="379.1" r="2.9" fill="#8e8e8e" stroke="#c2c2c2" stroke-width="1"/>
<circle cx="510.4" cy="379.1" r="6.6" fill="none" stroke="#7a7a7a" stroke-width="0.9"/>
<circle cx="510.4" cy="379.1" r="5.6" fill="none" stroke="#c6c6c6" stroke-width="1.3"/>
<circle cx="510.4" cy="379.1" r="4.15" fill="none" stroke="#484848" stroke-width="1.15"/>
<circle cx="510.4" cy="379.1" r="2.9" fill="#8e8e8e" stroke="#c2c2c2" stroke-width="1"/>
<circle cx="529.4" cy="379.1" r="6.6" fill="none" stroke="#7a7a7a" stroke-width="0.9"/>
<circle cx="529.4" cy="379.1" r="5.6" fill="none" stroke="#c6c6c6" stroke-width="1.3"/>
<circle cx="529.4" cy="379.1" r="4.15" fill="none" stroke="#484848" stroke-width="1.15"/>
<circle cx="529.4" cy="379.1" r="2.9" fill="#8e8e8e" stroke="#c2c2c2" stroke-width="1"/>
<circle cx="387.4" cy="395.6" r="6.6" fill="none" stroke="#7a7a7a" stroke-width="0.9"/>
<circle cx="387.4" cy="395.6" r="5.6" fill="none" stroke="#c6c6c6" stroke-width="1.3"/>
<circle cx="387.4" cy="395.6" r="4.15" fill="none" stroke="#484848" stroke-width="1.15"/>
<circle cx="387.4" cy="395.6" r="2.9" fill="#8e8e8e" stroke="#c2c2c2" stroke-width="1"/>
<circle cx="406.4" cy="395.6" r="6.6" fill="none" stroke="#7a7a7a" stroke-width="0.9"/>
<circle cx="406.4" cy="395.6" r="5.6" fill="none" stroke="#c6c6c6" stroke-width="1.3"/>
<circle cx="406.4" cy="395.6" r="4.15" fill="none" stroke="#484848" stroke-width="1.15"/>
<circle cx="406.4" cy="395.6" r="2.9" fill="#8e8e8e" stroke="#c2c2c2" stroke-width="1"/>
<circle cx="425.4" cy="395.6" r="6.6" fill="none" stroke="#7a7a7a" stroke-width="0.9"/>
<circle cx="425.4" cy="395.6" r="5.6" fill="none" stroke="#c6c6c6" stroke-width="1.3"/>
<circle cx="425.4" cy="395.6" r="4.15" fill="none" stroke="#484848" stroke-width="1.15"/>
<circle cx="425.4" cy="395.6" r="2.9" fill="#8e8e8e" stroke="#c2c2c2" stroke-width="1"/>
<circle cx="444.4" cy="395.6" r="6.6" fill="none" stroke="#7a7a7a" stroke-width="0.9"/>
<circle cx="444.4" cy="395.6" r="5.6" fill="none" stroke="#c6c6c6" stroke-width="1.3"/>
<circle cx="444.4" cy="395.6" r="4.15" fill="none" stroke="#484848" stroke-width="1.15"/>
<circle cx="444.4" cy="395.6" r="2.9" fill="#8e8e8e" stroke="#c2c2c2" stroke-width="1"/>
<circle cx="463.4" cy="395.6" r="6.6" fill="none" stroke="#7a7a7a" stroke-width="0.9"/>
<circle cx="463.4" cy="395.6" r="5.6" fill="none" stroke="#c6c6c6" stroke-width="1.3"/>
<circle cx="463.4" cy="395.6" r="4.15" fill="none" stroke="#484848" stroke-width="1.15"/>
<circle cx="463.4" cy="395.6" r="2.9" fill="#8e8e8e" stroke="#c2c2c2" stroke-width="1"/>
<circle cx="482.4" cy="395.6" r="6.6" fill="none" stroke="#7a7a7a" stroke-width="0.9"/>
<circle cx="482.4" cy="395.6" r="5.6" fill="none" stroke="#c6c6c6" stroke-width="1.3"/>
<circle cx="482.4" cy="395.6" r="4.15" fill="none" stroke="#484848" stroke-width="1.15"/>
<circle cx="482.4" cy="395.6" r="2.9" fill="#8e8e8e" stroke="#c2c2c2" stroke-width="1"/>
<circle cx="501.4" cy="395.6" r="6.6" fill="none" stroke="#7a7a7a" stroke-width="0.9"/>
<circle cx="501.4" cy="395.6" r="5.6" fill="none" stroke="#c6c6c6" stroke-width="1.3"/>
<circle cx="501.4" cy="395.6" r="4.15" fill="none" stroke="#484848" stroke-width="1.15"/>
<circle cx="501.4" cy="395.6" r="2.9" fill="#8e8e8e" stroke="#c2c2c2" stroke-width="1"/>
<circle cx="520.4" cy="395.6" r="6.6" fill="none" stroke="#7a7a7a" stroke-width="0.9"/>
<circle cx="520.4" cy="395.6" r="5.6" fill="none" stroke="#c6c6c6" stroke-width="1.3"/>
<circle cx="520.4" cy="395.6" r="4.15" fill="none" stroke="#484848" stroke-width="1.15"/>
<circle cx="520.4" cy="395.6" r="2.9" fill="#8e8e8e" stroke="#c2c2c2" stroke-width="1"/>
<circle cx="539.4" cy="395.6" r="6.6" fill="none" stroke="#7a7a7a" stroke-width="0.9"/>
<circle cx="539.4" cy="395.6" r="5.6" fill="none" stroke="#c6c6c6" stroke-width="1.3"/>
<circle cx="539.4" cy="395.6" r="4.15" fill="none" stroke="#484848" stroke-width="1.15"/>
<circle cx="539.4" cy="395.6" r="2.9" fill="#8e8e8e" stroke="#c2c2c2" stroke-width="1"/>
<circle cx="397.4" cy="412.1" r="6.6" fill="none" stroke="#7a7a7a" stroke-width="0.9"/>
<circle cx="397.4" cy="412.1" r="5.6" fill="none" stroke="#c6c6c6" stroke-width="1.3"/>
<circle cx="397.4" cy="412.1" r="4.15" fill="none" stroke="#484848" stroke-width="1.15"/>
<circle cx="397.4" cy="412.1" r="2.9" fill="#8e8e8e" stroke="#c2c2c2" stroke-width="1"/>
<circle cx="416.4" cy="412.1" r="6.6" fill="none" stroke="#7a7a7a" stroke-width="0.9"/>
<circle cx="416.4" cy="412.1" r="5.6" fill="none" stroke="#c6c6c6" stroke-width="1.3"/>
<circle cx="416.4" cy="412.1" r="4.15" fill="none" stroke="#484848" stroke-width="1.15"/>
<circle cx="416.4" cy="412.1" r="2.9" fill="#8e8e8e" stroke="#c2c2c2" stroke-width="1"/>
<circle cx="435.4" cy="412.1" r="6.6" fill="none" stroke="#7a7a7a" stroke-width="0.9"/>
<circle cx="435.4" cy="412.1" r="5.6" fill="none" stroke="#c6c6c6" stroke-width="1.3"/>
<circle cx="435.4" cy="412.1" r="4.15" fill="none" stroke="#484848" stroke-width="1.15"/>
<circle cx="435.4" cy="412.1" r="2.9" fill="#8e8e8e" stroke="#c2c2c2" stroke-width="1"/>
<circle cx="454.4" cy="412.1" r="6.6" fill="none" stroke="#7a7a7a" stroke-width="0.9"/>
<circle cx="454.4" cy="412.1" r="5.6" fill="none" stroke="#c6c6c6" stroke-width="1.3"/>
<circle cx="454.4" cy="412.1" r="4.15" fill="none" stroke="#484848" stroke-width="1.15"/>
<circle cx="454.4" cy="412.1" r="2.9" fill="#8e8e8e" stroke="#c2c2c2" stroke-width="1"/>
<circle cx="473.4" cy="412.1" r="6.6" fill="none" stroke="#7a7a7a" stroke-width="0.9"/>
<circle cx="473.4" cy="412.1" r="5.6" fill="none" stroke="#c6c6c6" stroke-width="1.3"/>
<circle cx="473.4" cy="412.1" r="4.15" fill="none" stroke="#484848" stroke-width="1.15"/>
<circle cx="473.4" cy="412.1" r="2.9" fill="#8e8e8e" stroke="#c2c2c2" stroke-width="1"/>
<circle cx="492.4" cy="412.1" r="6.6" fill="none" stroke="#7a7a7a" stroke-width="0.9"/>
<circle cx="492.4" cy="412.1" r="5.6" fill="none" stroke="#c6c6c6" stroke-width="1.3"/>
<circle cx="492.4" cy="412.1" r="4.15" fill="none" stroke="#484848" stroke-width="1.15"/>
<circle cx="492.4" cy="412.1" r="2.9" fill="#8e8e8e" stroke="#c2c2c2" stroke-width="1"/>
<circle cx="511.4" cy="412.1" r="6.6" fill="none" stroke="#7a7a7a" stroke-width="0.9"/>
<circle cx="511.4" cy="412.1" r="5.6" fill="none" stroke="#c6c6c6" stroke-width="1.3"/>
<circle cx="511.4" cy="412.1" r="4.15" fill="none" stroke="#484848" stroke-width="1.15"/>
<circle cx="511.4" cy="412.1" r="2.9" fill="#8e8e8e" stroke="#c2c2c2" stroke-width="1"/>
<circle cx="530.4" cy="412.1" r="6.6" fill="none" stroke="#7a7a7a" stroke-width="0.9"/>
<circle cx="530.4" cy="412.1" r="5.6" fill="none" stroke="#c6c6c6" stroke-width="1.3"/>
<circle cx="530.4" cy="412.1" r="4.15" fill="none" stroke="#484848" stroke-width="1.15"/>
<circle cx="530.4" cy="412.1" r="2.9" fill="#8e8e8e" stroke="#c2c2c2" stroke-width="1"/>
<polygon points="387.6,376.1 391.4,378.9 387.6,381.7" fill="#f4f4f4" stroke="#3a3a3a" stroke-width="0.9"/>
<polygon points="387.6,409.5 391.4,412.3 387.6,415.1" fill="#f4f4f4" stroke="#3a3a3a" stroke-width="0.9"/>
</g>
<path d="M422.3 329.9H443.6" stroke="#ffffff" stroke-width="2.6" stroke-linecap="round"/>
<text x="417.3" y="349" class="sb" textLength="51.5" lengthAdjust="spacingAndGlyphs">430 nm</text>
<text x="37.2" y="17.3" class="tk" textLength="34.6" lengthAdjust="spacingAndGlyphs">0.05</text>
<text x="37.5" y="117.5" class="tk" textLength="34.6" lengthAdjust="spacingAndGlyphs">0.04</text>
<text x="37.5" y="220.7" class="tk" textLength="34.6" lengthAdjust="spacingAndGlyphs">0.03</text>
<text x="37.9" y="329.1" class="tk" textLength="34.6" lengthAdjust="spacingAndGlyphs">0.02</text>
<text x="35.0" y="432.4" class="tk" textLength="34.0" lengthAdjust="spacingAndGlyphs">0.01</text>
<text x="79.5" y="455.8" class="tk" textLength="30.2" lengthAdjust="spacingAndGlyphs">400</text>
<text x="224.0" y="456.1" class="tk" textLength="29.5" lengthAdjust="spacingAndGlyphs">500</text>
<text x="374.5" y="456.1" class="tk" textLength="29.5" lengthAdjust="spacingAndGlyphs">600</text>
<text x="518.1" y="455.9" class="tk" textLength="29.8" lengthAdjust="spacingAndGlyphs">700</text>
<text x="133.0" y="134.0" class="lb" textLength="19.0" lengthAdjust="spacingAndGlyphs">(a)</text>
<text x="451.0" y="302.7" class="lb" textLength="19.0" lengthAdjust="spacingAndGlyphs">(b)</text>
<text x="234.5" y="488.3" class="ax" textLength="136.8" lengthAdjust="spacingAndGlyphs">Wavelength (nm)</text>
<text transform="translate(18.4 343.5) rotate(-90)" class="ax" textLength="215.5" lengthAdjust="spacingAndGlyphs">Transmission Intensity (a.u)</text>
</svg>
</body></html>
